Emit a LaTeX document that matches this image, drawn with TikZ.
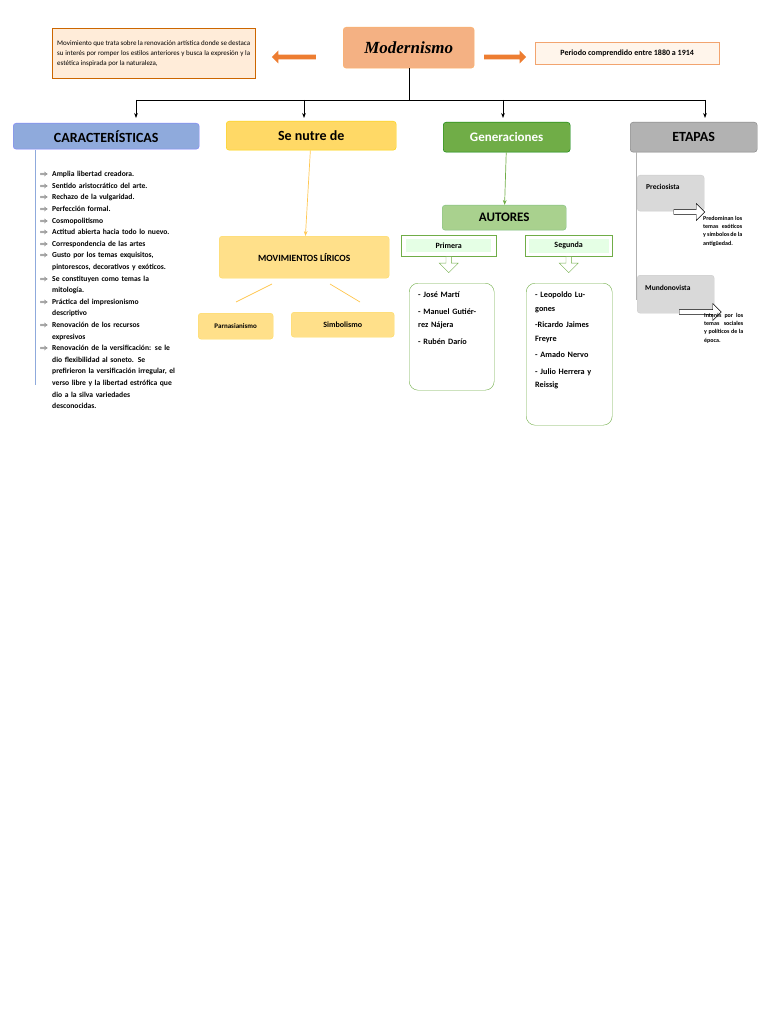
\documentclass[tikz,border=0pt]{standalone}
\usepackage{fontspec}
\setmainfont{Carlito}
\usetikzlibrary{arrows.meta,shapes.arrows}
\definecolor{org}{HTML}{ED7D31}
\definecolor{cblue}{HTML}{8FAADC}
\definecolor{cgreen}{HTML}{70AD47}
\definecolor{cyel}{HTML}{FFD966}
\definecolor{cyel2}{HTML}{FFE08A}
\definecolor{lgreen}{HTML}{A9D18E}
\definecolor{salmon}{HTML}{F4B183}
\begin{document}
\begin{tikzpicture}[x=1pt,y=-1pt,
 box/.style={draw,rounded corners=3pt,inner sep=0pt,anchor=north west},
 conn/.style={-{Stealth[length=5pt]},line width=0.8pt},
 harrow/.style={single arrow,draw,fill=white,minimum width=17pt,single arrow head extend=3pt,inner sep=1pt},
 small/.style={font=\fontsize{6}{8.2}\selectfont\bfseries,text width=39pt,align=justify,anchor=north west,inner sep=0pt}]
\useasboundingbox (0,0) rectangle (768,1024);
% top
\node[draw=orange!80!black,fill=orange!15,minimum width=203pt,minimum height=50pt,anchor=north west] (desc) at (52,28) {};
\node[text width=193pt,align=justify,font=\fontsize{7}{10}\selectfont,inner sep=0pt] at (desc.center) {Movimiento que trata sobre la renovación artística donde se destaca su interés por romper los estilos anteriores y busca la expresión y la estética inspirada por la naturaleza,};
\node[box,fill=salmon,draw=orange!60,minimum width=131pt,minimum height=41pt] (mod) at (343,27) {};
\node[font=\fontsize{17}{20}\selectfont\itshape\bfseries,text=black] at (mod.center) {\fontspec{Liberation Serif}Modernismo};
\node[single arrow,fill=org,draw=none,shape border rotate=180,minimum height=44pt,minimum width=13pt,single arrow head extend=2pt,inner sep=1pt] (la) at (295,57) {};
\node[single arrow,fill=org,draw=none,minimum height=42pt,minimum width=13pt,single arrow head extend=2pt,inner sep=1pt] (ra) at (504,57) {};
\node[draw=org!70,fill=orange!8,minimum width=184pt,minimum height=22pt,anchor=north west,font=\fontsize{8}{9}\selectfont\bfseries] (per) at (535,42) {Periodo comprendido entre 1880 a 1914};
\coordinate (hub) at (409,100);
\draw[line width=0.8pt] (mod.south -| hub) -- (hub);
\draw[line width=0.8pt] (136,100) -- (705,100);
% level 2
\node[box,fill=cblue,draw=blue!50,minimum width=186pt,minimum height=26pt,font=\fontsize{14}{16}\selectfont\bfseries] (car) at (13,123) {CARACTERÍSTICAS};
\node[box,fill=cyel,draw=yellow!70!orange,minimum width=170pt,minimum height=29pt,font=\fontsize{14}{16}\selectfont\bfseries] (nut) at (226,121) {Se nutre de};
\node[box,fill=cgreen,draw=green!50!black,minimum width=127pt,minimum height=30pt,font=\fontsize{13}{16}\selectfont\bfseries,text=white] (gen) at (443,122) {Generaciones};
\node[box,fill=gray!60,draw=gray,minimum width=127pt,minimum height=30pt,font=\fontsize{14}{16}\selectfont\bfseries] (eta) at (630,122) {ETAPAS};
\foreach \n/\x in {car/136,nut/304,gen/503,eta/705}
  \draw[conn] (\x,100) -- (\x,118);
% caracteristicas list
\draw[cblue,line width=0.7pt] (35,150) -- (35,385);
\node[anchor=north west,inner sep=0pt,text width=140pt,font=\fontsize{7.6}{11.6}\selectfont\bfseries] (list) at (35,165) {%
\begin{list}{$\Rightarrow$}{\leftmargin=17pt\labelwidth=10pt\labelsep=4pt\itemsep=0pt\parsep=0pt\topsep=0pt}
\item Amplia libertad creadora.
\item Sentido aristocrático del arte.
\item Rechazo de la vulgaridad.
\item Perfección formal.
\item Cosmopolitismo
\item Actitud abierta hacia todo lo nuevo.
\item Correspondencia de las artes
\item Gusto por los temas exquisitos, pintorescos, decorativos y exóticos.
\item Se constituyen como temas la mitología.
\item Práctica del impresionismo descriptivo
\item Renovación de los recursos expresivos
\item Renovación de la versificación: se le dio flexibilidad al soneto. Se prefirieron la versificación irregular, el verso libre y la libertad estrófica que dio a la silva variedades desconocidas.
\end{list}};
% se nutre de
\node[box,fill=cyel2,draw=yellow!60!orange!60,minimum width=170pt,minimum height=42pt,font=\fontsize{9.5}{11}\selectfont\bfseries] (mov) at (219,236) {MOVIMIENTOS LÍRICOS};
\draw[conn,cyel!80!orange,line width=0.7pt] (nut) -- (mov);
\node[box,fill=cyel2,draw=yellow!60!orange!60,minimum width=75pt,minimum height=26pt,font=\fontsize{7}{8}\selectfont\bfseries] (par) at (198,313) {Parnasianismo};
\node[box,fill=cyel2,draw=yellow!60!orange!60,minimum width=103pt,minimum height=25pt,font=\fontsize{8}{9}\selectfont\bfseries] (sim) at (291,312) {Simbolismo};
\draw[cyel!80!orange,line width=0.7pt] (272,284) -- (236,302);
\draw[cyel!80!orange,line width=0.7pt] (330,284) -- (360,302);
% generaciones
\node[box,fill=lgreen,draw=green!50!black!50,minimum width=124pt,minimum height=25pt,font=\fontsize{13}{15}\selectfont\bfseries] (aut) at (442,205) {AUTORES};
\draw[conn,cgreen,line width=0.7pt] (gen) -- (aut);
\node[draw=cgreen,fill=white,minimum width=95pt,minimum height=21pt,anchor=north west] (pri) at (401,235) {};
\node[fill=green!10,minimum width=85pt,minimum height=13pt,font=\fontsize{8}{9}\selectfont\bfseries] at (pri.center) {Primera};
\node[draw=cgreen,fill=white,minimum width=87pt,minimum height=21pt,anchor=north west] (seg) at (525,235) {};
\node[fill=green!10,minimum width=80pt,minimum height=13pt,font=\fontsize{8}{9}\selectfont\bfseries] at (seg.center) {Segunda};
\node[single arrow,draw=cgreen,fill=white,shape border rotate=270,minimum height=16pt,minimum width=19pt,single arrow head extend=3pt,inner sep=1pt,anchor=north] (pa) at (pri.south) {};
\node[single arrow,draw=cgreen,fill=white,shape border rotate=270,minimum height=16pt,minimum width=19pt,single arrow head extend=3pt,inner sep=1pt,anchor=north] (sa) at (seg.south) {};
\node[box,draw=cgreen,rounded corners=9pt,minimum width=85pt,minimum height=107pt] (b1) at (409,283) {};
\node[anchor=north west,text width=62pt,align=left,font=\fontsize{8.2}{13.5}\selectfont\bfseries,inner sep=0pt] at (418,292) {- José Martí\\[3pt]- Manuel Gutiérrez Nájera\\[3pt]- Rubén Darío};
\node[box,draw=cgreen,rounded corners=9pt,minimum width=86pt,minimum height=142pt] (b2) at (526,283) {};
\node[anchor=north west,text width=62pt,align=left,font=\fontsize{8.2}{13.5}\selectfont\bfseries,inner sep=0pt] at (535,292) {- Leopoldo Lugones\\[3pt]-Ricardo Jaimes Freyre\\[3pt]- Amado Nervo\\[3pt]- Julio Herrera y Reissig};
% etapas
\draw[gray!60,line width=0.7pt] (636,152) -- (636,300);
\node[box,fill=gray!30,draw=gray!40,minimum width=67pt,minimum height=36pt] (pre) at (637,175) {};
\node[anchor=north west,font=\fontsize{7.5}{8}\selectfont\bfseries,inner sep=0pt] at (646,184) {Preciosista};
\node[harrow,minimum height=31pt] (a1) at (688,212) {};
\node[small] at (703,216) {Predominan los temas exóticos y símbolos de la antigüedad.};
\node[box,fill=gray!30,draw=gray!40,minimum width=77pt,minimum height=38pt] (mun) at (637,275) {};
\node[anchor=north west,font=\fontsize{7.5}{8}\selectfont\bfseries,inner sep=0pt] at (645,285) {Mundonovista};
\node[harrow,minimum height=42pt] (a2) at (699,312) {};
\node[small] at (704,313) {Interés por los temas sociales y políticos de la época.};
\end{tikzpicture}
\end{document}
